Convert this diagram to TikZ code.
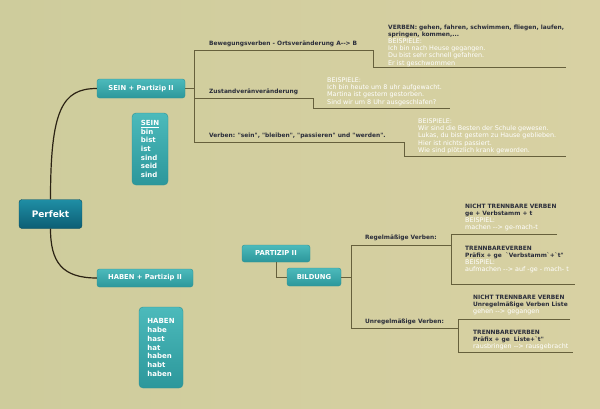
\documentclass[tikz,border=0pt]{standalone}
\usepackage{fontspec}
\newfontfamily\mapfont{DejaVu Sans}
\usepackage{xcolor}
\usepackage{tikz}
\usetikzlibrary{positioning}

\definecolor{bgleft}{HTML}{CECC9C}
\definecolor{bgright}{HTML}{D8D1A3}
\definecolor{topictop}{HTML}{4CBABB}
\definecolor{topicbottom}{HTML}{2C979B}
\definecolor{topicedge}{HTML}{2E9296}
\definecolor{roottop}{HTML}{1F8EA5}
\definecolor{rootbottom}{HTML}{0C5E74}
\definecolor{rootedge}{HTML}{0B4E5E}
\definecolor{notetext}{HTML}{2A2D3A}
\definecolor{linkcolor}{HTML}{66603C}
\definecolor{stemcolor}{HTML}{2B2214}

\newcommand\hd[1]{\textcolor{notetext}{\bfseries\fontsize{5.9}{7.2}\selectfont #1}}

\begin{document}
\begin{tikzpicture}[
    x=1pt,y=-1pt,
    root/.style={rectangle,draw=rootedge,rounded corners=3pt,top color=roottop,bottom color=rootbottom,minimum width=63pt,minimum height=29pt,text=white,font=\mapfont\bfseries\fontsize{9}{11}\selectfont},
    topic/.style={rectangle,draw=topicedge,rounded corners=2.5pt,top color=topictop,bottom color=topicbottom,minimum height=18pt,inner sep=0pt,text=white,font=\mapfont\bfseries\fontsize{6.8}{8}\selectfont},
    listbox/.style={rectangle,draw=topicedge,rounded corners=4pt,top color=topictop,bottom color=topicbottom,align=left,inner sep=0pt,text=white,font=\mapfont\bfseries\fontsize{7}{8.7}\selectfont},
    branch/.style={anchor=west,inner sep=0pt,text=notetext,font=\mapfont\bfseries\fontsize{5.9}{7.2}\selectfont},
    note/.style={anchor=north west,inner sep=0pt,align=left,text=white,font=\mapfont\fontsize{6.4}{7.2}\selectfont},
    link/.style={draw=linkcolor,line width=0.9pt},
    stem/.style={draw=stemcolor,line width=1.2pt}
]
    % Background
    \fill[left color=bgleft,right color=bgright] (0,0) rectangle (600,408);
    \useasboundingbox (0,0) rectangle (600,408);

    % Nodes
    \node[root] (perfekt) at (50.5,214) {Perfekt};
    \node[topic,minimum width=88pt,minimum height=19pt] (sein) at (141,88.5) {SEIN + Partizip II};
    \node[topic,minimum width=96pt] (haben) at (145,278) {HABEN + Partizip II};
    \node[listbox,minimum width=36pt,minimum height=72pt] (seinlist) at (150,149) {\underline{SEIN}\\bin\\bist\\ist\\sind\\seid\\sind};
    \node[listbox,minimum width=44pt,minimum height=81pt] (habenlist) at (161,347.5) {HABEN\\habe\\hast\\hat\\haben\\habt\\haben};
    \node[topic,minimum width=68pt,minimum height=17pt] (partizip) at (276,253.5) {PARTIZIP II};
    \node[topic,minimum width=54pt] (bildung) at (314,277) {BILDUNG};

    % Fork points
    \coordinate (sfork) at (194,88.5);
    \coordinate (s1) at (194,50);
    \coordinate (s3) at (194,142);
    \coordinate (b1end) at (566,67);
    \coordinate (b2end) at (450,108);
    \coordinate (b3end) at (566,156);
    \coordinate (bfork) at (351,277);
    \coordinate (r0) at (351,245);
    \coordinate (u0) at (351,328);
    \coordinate (rtopend) at (557,234);
    \coordinate (rbot) at (451,284);
    \coordinate (rbotend) at (575,284);
    \coordinate (utopend) at (570,319);
    \coordinate (ubot) at (458,352);
    \coordinate (ubotend) at (573,352);

    % Lines
    \draw[stem] (perfekt.north) .. controls (50.5,110) and (62,88.5) .. (sein.west);
    \draw[stem] (perfekt.south) .. controls (50.5,262) and (62,278) .. (haben.west);

    \draw[link] (sein.east) -- (sfork);
    \draw[link] (b1end) -| (373,50) -- (s1) -- (s3) -- (404,142) |- (b3end);
    \draw[link] (194,98) -- (313,98) |- (b2end);

    \draw[link] (partizip.south) |- (bildung.west);
    \draw[link] (bildung.east) -- (bfork);
    \draw[link] (r0) -- (u0);
    \draw[link] (r0) -- (451,245);
    \draw[link] (rtopend) -| (rbot) -- (rbotend);
    \draw[link] (u0) -- (458,328);
    \draw[link] (utopend) -| (ubot) -- (ubotend);

    % Labels
    \node[branch] (beweg) at (209,44) {Bewegungsverben - Ortsveränderung A--> B};
    \node[branch] (zustand) at (209,91.5) {Zustandveränveränderung};
    \node[branch] (verbenlabel) at (209,135.5) {Verben: "sein", "bleiben", "passieren" und "werden".};
    \node[branch] (regel) at (365,238) {Regelmäßige Verben:};
    \node[branch] (unregel) at (365,322) {Unregelmäßige Verben:};

    % Texts
    \node[note] (bewegbsp) at (388,24.5) {\hd{VERBEN: gehen, fahren, schwimmen, fliegen, laufen,}\\\hd{springen, kommen,...}\\BEISPIELE:\\Ich bin nach Heuse gegangen.\\Du bist sehr schnell gefahren.\\Er ist geschwommen};
    \node[note] (zustandbsp) at (327,77.5) {BEISPIELE:\\Ich bin heute um 8 uhr aufgewacht.\\Martina ist gestern gestorben.\\Sind wir um 8 Uhr ausgeschlafen?};
    \node[note] (verbenbsp) at (418,118.5) {BEISPIELE:\\Wir sind die Besten der Schule gewesen.\\Lukas, du bist gestern zu Hause geblieben.\\Hier ist nichts passiert.\\Wie sind plötzlich krank geworden.};
    \node[note] (regnicht) at (465,203.5) {\hd{NICHT TRENNBARE VERBEN}\\\hd{ge + Verbstamm + t}\\BEISPIEL:\\machen --> ge-mach-t};
    \node[note] (regtrenn) at (465,245.5) {\hd{TRENNBAREVERBEN}\\\hd{Präfix + ge \ `Verbstamm`+`t"}\\BEISPIEL:\\aufmachen --> auf -ge - mach- t};
    \node[note] (unregnicht) at (473,294.5) {\hd{NICHT TRENNBARE VERBEN}\\\hd{Unregelmäßige Verben Liste}\\gehen --> gegangen};
    \node[note] (unregtrenn) at (473,329.5) {\hd{TRENNBAREVERBEN}\\\hd{Präfix + ge \ Liste+`t"}\\rausbringen --> rausgebracht};
\end{tikzpicture}
\end{document}
